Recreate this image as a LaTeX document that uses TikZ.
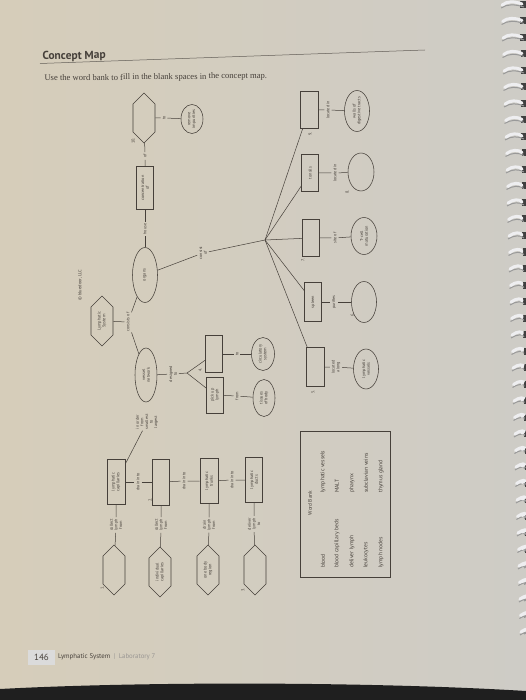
\documentclass[tikz,border=0pt]{standalone}
\usepackage{fontspec}
\setmainfont{Liberation Serif}
\setsansfont{PT Sans}
\usetikzlibrary{shapes.geometric,shapes.symbols}
\definecolor{paperL}{RGB}{214,205,186}
\definecolor{paperR}{RGB}{206,204,198}
\definecolor{ink}{RGB}{70,64,58}
\definecolor{coil}{RGB}{238,238,240}
\tikzset{%
	% Specifications for style of nodes:
	base/.style = {draw=ink, line width=0.55pt, rotate=90, text=ink,
		align=center, inner sep=0.5pt,
		font=\sffamily\fontsize{4.3}{4.7}\selectfont},
	conceptbox/.style = {base, rectangle, minimum width=38pt, minimum height=17pt},
	conceptoval/.style = {base, ellipse, minimum width=38pt, minimum height=25pt},
	hexbox/.style = {base, signal, signal to=east and west,
		minimum width=50pt, minimum height=22pt},
	linkword/.style = {rotate=90, text=ink, align=center, inner sep=1.8pt,
		font=\sffamily\fontsize{4.2}{4.6}\selectfont},
	blanknum/.style = {rotate=90, text=ink, inner sep=0pt,
		font=\sffamily\fontsize{4.3}{4.7}\selectfont},
	bankword/.style = {rotate=90, anchor=west, text=ink, inner sep=0pt,
		font=\sffamily\fontsize{5.6}{6}\selectfont},
	link/.style = {draw=ink, line width=0.5pt},
}

\begin{document}
\begin{tikzpicture}[x=1pt, y=-1pt]
	% page, binding and table
	\useasboundingbox (0,0) rectangle (526,700);
	\shade[left color=paperL, right color=paperR] (0,0) rectangle (526,700);
	\fill[black!88] (0,700) -- (0,689) .. controls (150,681) and (380,682) .. (526,691) -- (526,700) -- cycle;
	\foreach \y in {4,20.5,...,640} {
		\fill[black!75] ({520+0.01*\y},\y-3) rectangle (526,\y+4);
		\draw[black!40, line width=1pt] ({501+0.03*\y},\y+4) .. controls ({507+0.03*\y},\y) and ({514+0.03*\y},\y) .. (524,\y+3);
		\draw[coil, line width=3pt, line cap=round] ({502+0.03*\y},\y+1) .. controls ({507+0.03*\y},\y-3) and ({514+0.03*\y},\y-3) .. (522,\y);
	}
	
	% heading
	\node (title) [anchor=base west, rotate=1.2, text=ink,
		font=\sffamily\bfseries\fontsize{11.5}{12}\selectfont] at (39,60) {Concept Map};
	\draw[ink!85, line width=0.5pt] (40,63.5) -- (425,50);
	\node (instr) [anchor=base west, rotate=0.7, text=ink,
		font=\fontsize{8.6}{9}\selectfont] at (41,81) {Use the word bank to fill in the blank spaces in the concept map.};
	\node (copy) [rotate=90, text=ink, font=\sffamily\fontsize{4.5}{5}\selectfont] at (80,285) {\textcopyright\,bluedoor, LLC};
	
	% concept map (printed turned on its side)
	\node (hexten) [hexbox] at (144,118) {};
	\node (lwTo) [linkword] at (164,118) {to};
	\node (remimp) [conceptoval, minimum width=29pt, minimum height=22pt] at (192,119) {remove\\impurities};
	\node (lwOf) [linkword] at (145,156) {of};
	\node (conc) [conceptbox, minimum width=43pt] at (145,188) {concentration\\of};
	\node (lwHouse) [linkword] at (145,229) {house};
	\node (organs) [conceptoval, minimum width=55pt] at (145,275) {organs};
	\node (lsys) [hexbox] at (102,321) {Lymphatic\\System};
	\node (lwCons) [linkword] at (128,322) {consists of};
	\node (vnet) [conceptoval, minimum width=54pt, minimum height=22pt] at (146,375) {vessel\\network};
	\node (lwConsist) [linkword] at (203,253) {consist\\of};
	\coordinate (hub) at (265,240);
	
	\node (lwDesigned) [linkword] at (173,374) {designed\\to};
	\coordinate (fork) at (187,373);
	\node (boxfour) [conceptbox, minimum width=37pt] at (214,354) {};
	\node (pickup) [conceptbox, minimum width=36pt] at (215,395) {pick up\\lymph};
	\node (lwToB) [linkword] at (237,354) {to};
	\node (lwFrom) [linkword] at (237,396) {from};
	\node (circ) [conceptoval, minimum width=33pt, minimum height=23pt] at (263,354) {circulatory\\system};
	\node (tissues) [conceptoval, minimum width=37pt, minimum height=22pt] at (264,398) {tissues\\of body};
	
	\node (lwOrder) [linkword, inner sep=1pt] at (147,422) {in order\\from\\smallest\\to\\largest};
	\node (lcap) [conceptbox, minimum width=45pt, minimum height=18pt] at (116,482) {lymphatic\\capillaries};
	\node (lwDrainA) [linkword] at (138,482) {drain into};
	\node (boxtwo) [conceptbox, minimum width=46pt] at (161,482) {};
	\node (lwDrainB) [linkword] at (184,481) {drain into};
	\node (trunks) [conceptbox, minimum width=45pt, minimum height=18pt] at (209,481) {lymphatic\\trunks};
	\node (lwDrainC) [linkword] at (232,480) {drain into};
	\node (ducts) [conceptbox, minimum width=45pt] at (254,480) {lymphatic\\ducts};
	
	\node (lwCollectA) [linkword] at (116,525) {collect\\lymph\\from};
	\node (lwCollectB) [linkword] at (161,525) {collect\\lymph\\from};
	\node (lwDrainLymph) [linkword] at (209,525) {drain\\lymph\\from};
	\node (lwDeliver) [linkword] at (254,524) {deliver\\lymph\\to};
	\node (hexone) [hexbox] at (114,570) {};
	\node (indiv) [hexbox] at (160,572) {individual\\capillaries};
	\node (onebody) [hexbox] at (208,570) {one body\\region};
	\node (hexthree) [hexbox] at (255,570) {};
	
	\node (boxnine) [conceptbox, minimum width=37pt, minimum height=18pt] at (309,110) {};
	\node (tonsils) [conceptbox, minimum width=37pt] at (310,173) {tonsils};
	\node (boxseven) [conceptbox, minimum width=37pt] at (311,238) {};
	\node (spleen) [conceptbox, minimum width=39pt] at (313,302) {spleen};
	\node (boxfive) [conceptbox, minimum width=39pt, minimum height=18pt] at (315,367) {};
	\node (lwLocA) [linkword] at (328,110) {located in};
	\node (lwLocB) [linkword] at (335,173) {located in};
	\node (lwSite) [linkword] at (335,238) {site of};
	\node (lwPurif) [linkword] at (334,302) {purifies};
	\node (lwAlong) [linkword] at (336,367) {located\\along};
	\node (walls) [conceptoval, minimum width=32pt] at (357,111) {walls of\\digestive tracts};
	\node (ovaleight) [conceptoval, minimum width=38pt, minimum height=26pt] at (361,172) {};
	\node (tcell) [conceptoval, minimum width=37pt, minimum height=26pt] at (364,236) {T-cell\\maturation};
	\node (ovalsix) [conceptoval, minimum width=41pt] at (364,302) {};
	\node (lvessels) [conceptoval, minimum width=40pt] at (366,369) {lymphatic\\vessels};
	
	% blanks to fill in
	\node (nOne) [blanknum] at (102,588) {1.};
	\node (nTwo) [blanknum] at (150,500) {2.};
	\node (nThree) [blanknum] at (243,590) {3.};
	\node (nFour) [blanknum] at (200,370) {4.};
	\node (nFive) [blanknum] at (313,392) {5.};
	\node (nSix) [blanknum] at (352,315) {6.};
	\node (nSeven) [blanknum] at (303,260) {7.};
	\node (nEight) [blanknum] at (347,192) {8.};
	\node (nNine) [blanknum] at (310,134) {9.};
	\node (nTen) [blanknum] at (133,141) {10.};
	
	% links
	\draw[link] (hexten) -- (lwTo) -- (remimp);
	\draw[link] (hexten) -- (lwOf) -- (conc);
	\draw[link] (conc) -- (lwHouse) -- (organs);
	\draw[link] (lsys) -- (lwCons);
	\draw[link] (lwCons) -- (organs);
	\draw[link] (lwCons) -- (vnet);
	\draw[link] (organs) -- (lwConsist) -- (hub);
	\draw[link] (hub) -- (boxnine);
	\draw[link] (hub) -- (tonsils);
	\draw[link] (hub) -- (boxseven);
	\draw[link] (hub) -- (spleen);
	\draw[link] (hub) -- (boxfive);
	\draw[link] (boxnine) -- (lwLocA) -- (walls);
	\draw[link] (tonsils) -- (lwLocB) -- (ovaleight);
	\draw[link] (boxseven) -- (lwSite) -- (tcell);
	\draw[link] (spleen) -- (lwPurif) -- (ovalsix);
	\draw[link] (boxfive) -- (lwAlong) -- (lvessels);
	
	\draw[link] (vnet) -- (lwDesigned) -- (fork);
	\draw[link] (fork) -- (boxfour);
	\draw[link] (fork) -- (pickup);
	\draw[link] (boxfour) -- (lwToB) -- (circ);
	\draw[link] (pickup) -- (lwFrom) -- (tissues);
	
	\draw[link] (lwOrder) -- (lcap);
	\draw[link] (lcap) -- (lwDrainA) -- (boxtwo);
	\draw[link] (boxtwo) -- (lwDrainB) -- (trunks);
	\draw[link] (trunks) -- (lwDrainC) -- (ducts);
	\draw[link] (lcap) -- (lwCollectA) -- (hexone);
	\draw[link] (boxtwo) -- (lwCollectB) -- (indiv);
	\draw[link] (trunks) -- (lwDrainLymph) -- (onebody);
	\draw[link] (ducts) -- (lwDeliver) -- (hexthree);
	
	% word bank
	\node (bank) [draw=ink, line width=0.6pt, minimum width=90pt, minimum height=146pt, inner sep=0pt] at (345,504) {};
	\node (bankTitle) [rotate=90, text=ink, font=\sffamily\fontsize{5.3}{6}\selectfont] at (310,503) {Word Bank};
	\node (wA) [bankword] at (323,568) {blood};
	\node (wB) [bankword] at (337,568) {blood capillary beds};
	\node (wC) [bankword] at (352,568) {deliver lymph};
	\node (wD) [bankword] at (366,568) {leukocytes};
	\node (wE) [bankword] at (381,568) {lymph nodes};
	\node (wF) [bankword] at (323,493) {lymphatic vessels};
	\node (wG) [bankword] at (337,493) {MALT};
	\node (wH) [bankword] at (352,493) {pharynx};
	\node (wI) [bankword] at (366,493) {subclavian veins};
	\node (wJ) [bankword] at (381,493) {thymus gland};
	
	% footer
	\node (pgnum) [fill=black!14, text=ink, minimum width=27pt, minimum height=15pt, inner sep=0pt,
		font=\sffamily\fontsize{9}{9}\selectfont] at (41.5,657.5) {146};
	\node (runhead) [anchor=west, inner sep=0pt, text=ink, font=\sffamily\fontsize{6.8}{7}\selectfont]
		at (58,657) {Lymphatic System\enspace\textcolor{ink!55}{|\enspace Laboratory 7}};
\end{tikzpicture}
\end{document}
